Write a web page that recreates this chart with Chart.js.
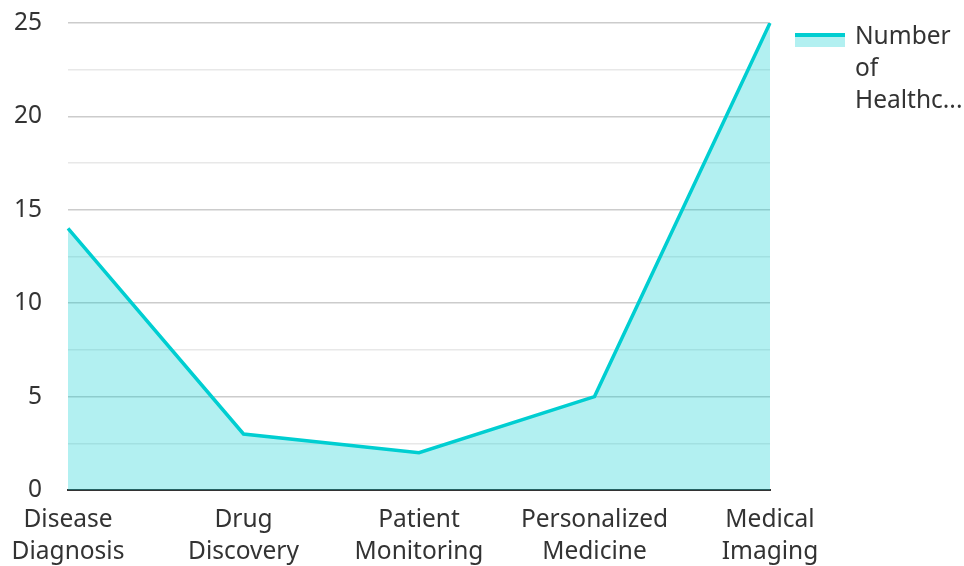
<!DOCTYPE html>
<html>
<head>
<meta charset="utf-8">
<script src="https://cdn.jsdelivr.net/npm/chart.js@4/dist/chart.umd.min.js"></script>
<style>
  html, body { margin: 0; padding: 0; background: #ffffff; }
  #wrap { position: relative; width: 964px; height: 566px; }
  #legend {
    position: absolute; left: 795px; top: 19px;
    font-family: "Noto Sans", sans-serif; font-size: 24.5px; line-height: 32px; color: #333333;
    display: flex; align-items: flex-start;
  }
  #legend .swatch {
    width: 50px; height: 10px; margin-top: 14px; margin-right: 10px;
    border-top: 4px solid #00CED1; background: rgba(0, 206, 209, 0.3);
  }
</style>
</head>
<body>
<div id="wrap">
  <canvas id="chart" width="964" height="566"></canvas>
  <div id="legend"><div class="swatch"></div><div class="text">Number<br>of<br>Healthc...</div></div>
</div>
<script>
// Applications of AI in healthcare, counted by area
const categories = [
  ['Disease', 'Diagnosis'],
  ['Drug', 'Discovery'],
  ['Patient', 'Monitoring'],
  ['Personalized', 'Medicine'],
  ['Medical', 'Imaging']
];
const applicationCounts = [14, 3, 2, 5, 25];
const seriesName = 'Number of Healthcare AI Applications';
const yMax = 25;
const yStep = 2.5;

const lineColor = '#00CED1';
const fillColor = 'rgba(0, 206, 209, 0.3)';
const textColor = '#333333';

new Chart(document.getElementById('chart'), {
  type: 'line',
  data: {
    labels: categories,
    datasets: [{
      label: seriesName,
      data: applicationCounts,
      borderColor: lineColor,
      backgroundColor: fillColor,
      borderWidth: 3.5,
      fill: 'origin',
      tension: 0,
      pointRadius: 0,
      pointHoverRadius: 0
    }]
  },
  options: {
    responsive: false,
    animation: false,
    layout: { padding: { top: 23, right: 194, left: 0, bottom: 0 } },
    plugins: {
      legend: { display: false },
      tooltip: { enabled: false }
    },
    scales: {
      x: {
        offset: false,
        grid: { display: false, drawTicks: false },
        border: { display: true, color: '#333333', width: 2 },
        ticks: {
          color: textColor,
          font: { family: 'Noto Sans', size: 24.5, lineHeight: 1.3 },
          maxRotation: 0,
          autoSkip: false,
          padding: 14
        },
        afterFit: (scale) => {
          scale.height = 76;
          scale.paddingLeft = 0;
          scale.paddingRight = 0;
        }
      },
      y: {
        min: 0,
        max: yMax,
        border: { display: false },
        grid: {
          drawTicks: false,
          color: (c) => (c.tick && c.tick.value % 5 === 0) ? '#cccccc' : '#e8e8e8',
          lineWidth: 1.5
        },
        ticks: {
          stepSize: yStep,
          color: textColor,
          font: { family: 'Noto Sans', size: 24.5 },
          padding: 26,
          callback: (v) => (v % 5 === 0 ? v : '')
        },
        afterFit: (scale) => {
          scale.width = 68;
          scale.paddingTop = 0;
          scale.paddingBottom = 0;
        }
      }
    }
  }
});
</script>
</body>
</html>
